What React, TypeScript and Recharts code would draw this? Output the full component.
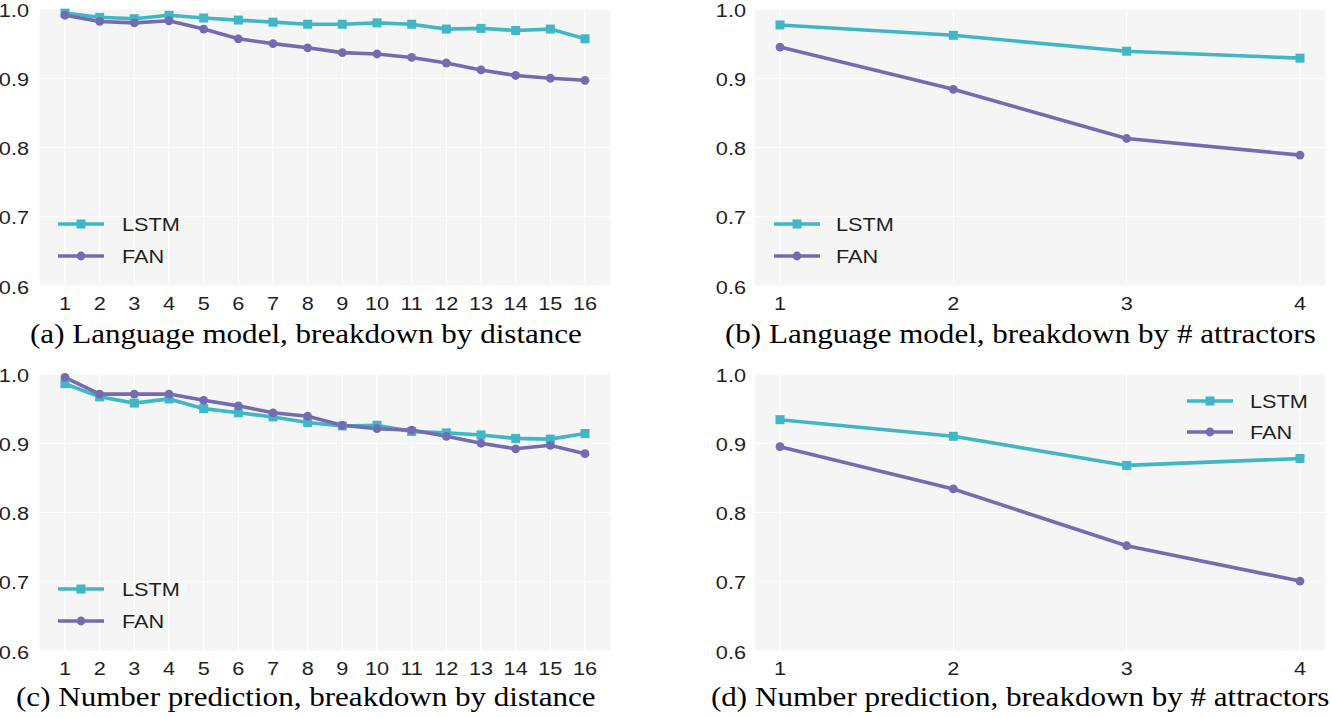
import React from 'react';
import { LineChart, Line, XAxis, YAxis, CartesianGrid, Legend } from 'recharts';

// ---------- data ----------
const distances = [1, 2, 3, 4, 5, 6, 7, 8, 9, 10, 11, 12, 13, 14, 15, 16];
const attractors = [1, 2, 3, 4];

const lmDistLSTM = [0.994, 0.988, 0.986, 0.991, 0.987, 0.984, 0.981, 0.978, 0.978, 0.980, 0.978, 0.971, 0.972, 0.969, 0.971, 0.957];
const lmDistFAN = [0.991, 0.982, 0.980, 0.983, 0.971, 0.957, 0.950, 0.944, 0.937, 0.935, 0.930, 0.922, 0.912, 0.904, 0.900, 0.897];

const lmAttrLSTM = [0.977, 0.962, 0.939, 0.929];
const lmAttrFAN = [0.945, 0.884, 0.813, 0.789];

const npDistLSTM = [0.986, 0.967, 0.958, 0.964, 0.950, 0.944, 0.938, 0.930, 0.925, 0.926, 0.917, 0.915, 0.912, 0.907, 0.906, 0.914];
const npDistFAN = [0.995, 0.971, 0.971, 0.971, 0.962, 0.954, 0.944, 0.939, 0.926, 0.921, 0.919, 0.910, 0.900, 0.892, 0.897, 0.885];

const npAttrLSTM = [0.934, 0.910, 0.868, 0.878];
const npAttrFAN = [0.895, 0.834, 0.752, 0.701];

const yTicks = [0.6, 0.7, 0.8, 0.9, 1.0];
const seriesNames = ['LSTM', 'FAN'];

const captionA = '(a) Language model, breakdown by distance';
const captionB = '(b) Language model, breakdown by # attractors';
const captionC = '(c) Number prediction, breakdown by distance';
const captionD = '(d) Number prediction, breakdown by # attractors';

// ---------- styles ----------
const LSTM_COLOR = '#41b6c4';
const FAN_COLOR = '#756bb1';
const BG = '#f5f5f5';
const TEXT = '#1f1f1f';
const SANS = '"Liberation Sans", Arial, Helvetica, sans-serif';
const SERIF = '"Liberation Serif", "Times New Roman", Times, serif';
const STRETCH = 1.155;
const TICK_FS = 18.8;
const CAP_FS = 26.9;
const LINE_W = 3.6;
const SQ = 9;
const DOT_R = 4.4;

const colorOf = (name: string) => (name === 'LSTM' ? LSTM_COLOR : FAN_COLOR);

function buildRows(xs: number[], lstm: number[], fan: number[]) {
  return xs.map((x, i) => ({ x, LSTM: lstm[i], FAN: fan[i] }));
}

const XTick = (props: any) => {
  const { x, y, payload } = props;
  return (
    <g transform={`translate(${x},${y})`}>
      <text transform={`scale(${STRETCH},1)`} textAnchor="middle" dy="0.71em" fontSize={TICK_FS} fontFamily={SANS} fill={TEXT}>
        {payload.value}
      </text>
    </g>
  );
};

const YTick = (props: any) => {
  const { x, y, payload } = props;
  return (
    <g transform={`translate(${x},${y + 1})`}>
      <text transform={`scale(${STRETCH},1)`} textAnchor="end" dy="0.355em" fontSize={TICK_FS} fontFamily={SANS} fill={TEXT}>
        {Number(payload.value).toFixed(1)}
      </text>
    </g>
  );
};

const SquareDot = (props: any) => {
  const { cx, cy, index } = props;
  if (cx == null || cy == null) return <g key={`sq-${index}`} />;
  return <rect key={`sq-${index}`} x={cx - SQ / 2} y={cy - SQ / 2} width={SQ} height={SQ} fill={LSTM_COLOR} />;
};

const RoundDot = (props: any) => {
  const { cx, cy, index } = props;
  if (cx == null || cy == null) return <g key={`rd-${index}`} />;
  return <circle key={`rd-${index}`} cx={cx} cy={cy} r={DOT_R} fill={FAN_COLOR} />;
};

const makeLegend = (rowGap: number, textX: number) => () => (
  <svg width={170} height={rowGap + 24} style={{ overflow: 'visible', display: 'block' }}>
    {seriesNames.map((name, i) => {
      const cy = 12 + i * rowGap;
      const c = colorOf(name);
      return (
        <g key={name}>
          <line x1={0} x2={46} y1={cy} y2={cy} stroke={c} strokeWidth={LINE_W} />
          {name === 'LSTM' ? (
            <rect x={23 - SQ / 2} y={cy - SQ / 2} width={SQ} height={SQ} fill={c} />
          ) : (
            <circle cx={23} cy={cy} r={DOT_R} fill={c} />
          )}
          <g transform={`translate(${textX},${cy})`}>
            <text transform={`scale(${STRETCH},1)`} dy="0.355em" fontSize={TICK_FS} fontFamily={SANS} fill={TEXT}>
              {name}
            </text>
          </g>
        </g>
      );
    })}
  </svg>
);

type PanelProps = {
  left: number;
  top: number;
  width: number;
  yAxisWidth: number;
  rightMargin: number;
  yTickMargin: number;
  xs: number[];
  domain: [number, number];
  lstm: number[];
  fan: number[];
  legendLeft: number;
  legendTop: number;
  legendGap: number;
  legendTextX: number;
};

const Panel = (p: PanelProps) => {
  const rows = buildRows(p.xs, p.lstm, p.fan);
  return (
    <div style={{ position: 'absolute', left: p.left, top: p.top, width: p.width, height: 320 }}>
      <LineChart width={p.width} height={320} data={rows} margin={{ top: 9, right: p.rightMargin, bottom: 0, left: 0 }}>
        <CartesianGrid fill={BG} fillOpacity={1} stroke="#ffffff" strokeWidth={1.2} />
        <XAxis
          type="number"
          dataKey="x"
          domain={p.domain}
          ticks={p.xs}
          interval={0}
          axisLine={false}
          tickLine={false}
          tickSize={0}
          tickMargin={11}
          height={34}
          tick={(t: any) => <XTick {...t} />}
        />
        <YAxis
          type="number"
          domain={[0.6, 1.0]}
          ticks={yTicks}
          interval={0}
          axisLine={false}
          tickLine={false}
          tickSize={0}
          tickMargin={p.yTickMargin}
          width={p.yAxisWidth}
          tick={(t: any) => <YTick {...t} />}
        />
        <Legend
          layout="horizontal"
          verticalAlign="middle"
          align="center"
          content={makeLegend(p.legendGap, p.legendTextX)}
          wrapperStyle={{ left: p.legendLeft, top: p.legendTop, width: 170, height: p.legendGap + 24, margin: 0, padding: 0 }}
        />
        <Line
          type="linear"
          dataKey="LSTM"
          name="LSTM"
          stroke={LSTM_COLOR}
          strokeWidth={LINE_W}
          dot={SquareDot}
          activeDot={false}
          isAnimationActive={false}
        />
        <Line
          type="linear"
          dataKey="FAN"
          name="FAN"
          stroke={FAN_COLOR}
          strokeWidth={LINE_W}
          dot={RoundDot}
          activeDot={false}
          isAnimationActive={false}
        />
      </LineChart>
    </div>
  );
};

const Caption = ({ x, y, text }: { x: number; y: number; text: string }) => (
  <g transform={`translate(${x},${y})`}>
    <text transform={`scale(${STRETCH},1)`} fontSize={CAP_FS} fontFamily={SERIF} fill="#000000">
      {text}
    </text>
  </g>
);

export default function App() {
  return (
    <div style={{ position: 'absolute', left: 0, top: 0, width: 1331, height: 717, background: '#ffffff', overflow: 'hidden' }}>
      <Panel
        left={0} top={0} width={620} yAxisWidth={39} rightMargin={9} yTickMargin={10}
        xs={distances} domain={[0.25, 16.75]} lstm={lmDistLSTM} fan={lmDistFAN}
        legendLeft={58} legendTop={212} legendGap={32} legendTextX={64}
      />
      <Panel
        left={700} top={0} width={631} yAxisWidth={54} rightMargin={5} yTickMargin={8}
        xs={attractors} domain={[0.85, 4.15]} lstm={lmAttrLSTM} fan={lmAttrFAN}
        legendLeft={74} legendTop={212} legendGap={32} legendTextX={62}
      />
      <Panel
        left={0} top={365} width={620} yAxisWidth={39} rightMargin={9} yTickMargin={10}
        xs={distances} domain={[0.25, 16.75]} lstm={npDistLSTM} fan={npDistFAN}
        legendLeft={58} legendTop={212} legendGap={32} legendTextX={64}
      />
      <Panel
        left={700} top={365} width={631} yAxisWidth={54} rightMargin={5} yTickMargin={8}
        xs={attractors} domain={[0.85, 4.15]} lstm={npAttrLSTM} fan={npAttrFAN}
        legendLeft={487} legendTop={24} legendGap={31} legendTextX={63}
      />
      <svg width={1331} height={717} style={{ position: 'absolute', left: 0, top: 0, pointerEvents: 'none' }}>
        <Caption x={30} y={343} text={captionA} />
        <Caption x={725} y={343} text={captionB} />
        <Caption x={16} y={706} text={captionC} />
        <Caption x={711} y={706} text={captionD} />
      </svg>
    </div>
  );
}
